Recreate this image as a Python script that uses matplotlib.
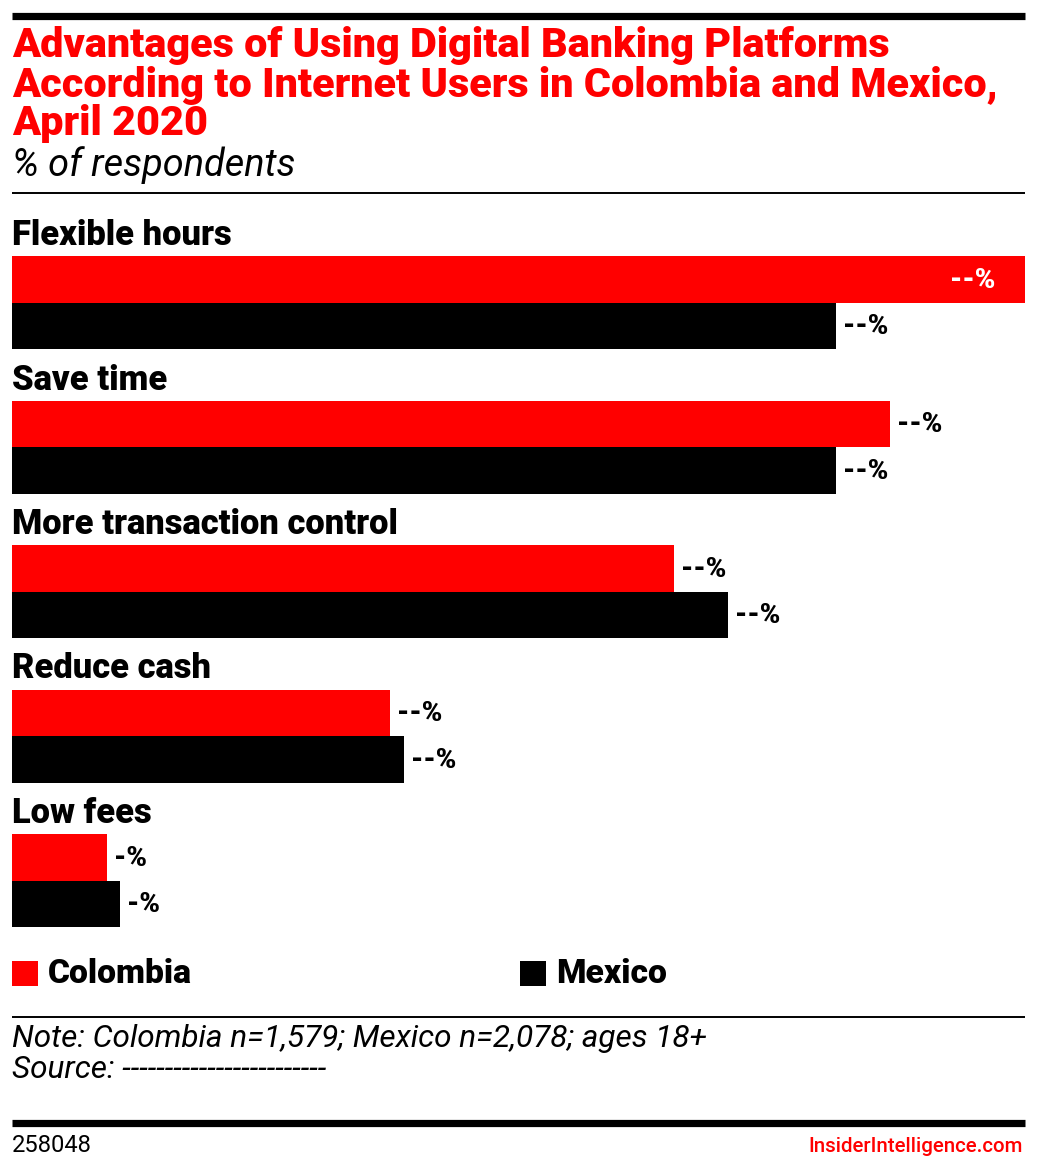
import matplotlib
matplotlib.use("Agg")
import matplotlib.pyplot as plt
from matplotlib.patches import Rectangle
from matplotlib.lines import Line2D

# ---- data ----
categories = ["Flexible hours", "Save time", "More transaction control", "Reduce cash", "Low fees"]
colombia = [75, 65, 49, 28, 7]
mexico = [61, 61, 53, 29, 8]
colombia_labels = ["--%", "--%", "--%", "--%", "-%"]
mexico_labels = ["--%", "--%", "--%", "--%", "-%"]
series_names = ["Colombia", "Mexico"]
title_lines = ["Advantages of Using Digital Banking Platforms",
               "According to Internet Users in Colombia and Mexico,",
               "April 2020"]
subtitle = "% of respondents"
note = "Note: Colombia n=1,579; Mexico n=2,078; ages 18+"
source = "Source: ------------------------"
chart_id = "258048"
brand = "InsiderIntelligence.com"

RED = "#ff0000"
BLACK = "#000000"
W, H = 1038, 1171

fig = plt.figure(figsize=(W / 100, H / 100), dpi=100)
fig.patch.set_facecolor("white")
renderer = fig.canvas.get_renderer()

def fx(px):
    return px / W

def fy(py):
    return 1 - py / H

FAM = ["Roboto", "DejaVu Sans"]
HEAVY = ["Roboto", "DejaVu Sans"]

def fit(t, target_px):
    bb = t.get_window_extent(renderer)
    if bb.width > 0:
        t.set_fontsize(t.get_fontsize() * target_px / bb.width)
    return t.get_fontsize()

# rules
def hrule(y, lw):
    fig.add_artist(Line2D([fx(12), fx(1025)], [fy(y), fy(y)], color="black", lw=lw,
                          solid_capstyle="butt", transform=fig.transFigure))

hrule(15.5, 5.2)
hrule(193, 1.4)
hrule(1017, 1.4)
hrule(1122.5, 5.2)

# title
tts = []
for i, yb in enumerate([57, 97, 135]):
    tts.append(fig.text(fx(12), fy(yb), title_lines[i], color=RED, fontsize=26,
                        fontweight="black", family=HEAVY, va="baseline", ha="left"))
ts = fit(tts[1], 988)
for t in tts:
    t.set_fontsize(ts)

st = fig.text(fx(12), fy(176), subtitle, color="black", fontsize=23, style="italic",
              family=FAM, va="baseline", ha="left")
fit(st, 284)

# bars axes
top_px, bot_px = 256, 927
ax = fig.add_axes([fx(12), fy(bot_px), fx(1025) - fx(12), (bot_px - top_px) / H])
step = 144.5
bh = 46.5
ax.set_xlim(0, 75)
ax.set_ylim(bot_px - top_px, 0)
ax.axis("off")

px_per_unit = (1025 - 12) / 75.0
cat_texts = []
for i, cat in enumerate(categories):
    y0 = i * step
    ax.barh(y0 + bh / 2, colombia[i], height=bh, color=RED, linewidth=0)
    ax.barh(y0 + bh * 1.5, mexico[i], height=bh, color=BLACK, linewidth=0)
    cat_texts.append(ax.text(0, y0 - 11, cat, fontsize=20.5, fontweight="black", family=HEAVY,
                             va="baseline", ha="left", clip_on=False))
    for val, lab, yc in ((colombia[i], colombia_labels[i], y0 + bh / 2),
                         (mexico[i], mexico_labels[i], y0 + bh * 1.5)):
        if val * px_per_unit > 950:
            ax.text(val - 30 / px_per_unit, yc + 1, lab, color="white", fontsize=20,
                    fontweight="black", family=HEAVY, va="center", ha="right")
        else:
            ax.text(val + 7 / px_per_unit, yc + 1, lab, color="black", fontsize=20,
                    fontweight="black", family=HEAVY, va="center", ha="left",
                    clip_on=False)

cs = fit(cat_texts[2], 387)
for t in cat_texts:
    t.set_fontsize(cs)

# legend
leg_texts = []
for (x0, name, col) in ((12, series_names[0], RED), (520, series_names[1], BLACK)):
    fig.add_artist(Rectangle((fx(x0), fy(986)), fx(26), 25 / H, color=col,
                             transform=fig.transFigure, lw=0))
    leg_texts.append(fig.text(fx(x0 + 36), fy(983), name, fontsize=20, fontweight="black",
                              family=HEAVY, va="baseline", ha="left"))
ls = fit(leg_texts[0], 144)
for t in leg_texts:
    t.set_fontsize(ls)

# notes
nt = fig.text(fx(12), fy(1047), note, fontsize=19, style="italic",
              family=FAM, va="baseline", ha="left")
ns = fit(nt, 696)
fig.text(fx(12), fy(1078), source, fontsize=ns, style="italic",
         family=FAM, va="baseline", ha="left")
it = fig.text(fx(12), fy(1152), chart_id, fontsize=15, family=FAM, va="baseline", ha="left")
fit(it, 80)
bt = fig.text(fx(1023), fy(1152), brand, fontsize=14, color=RED, family=FAM,
              fontweight="medium", va="baseline", ha="right")
fit(bt, 215)

fig.savefig("out.png", dpi=100, facecolor="white")
